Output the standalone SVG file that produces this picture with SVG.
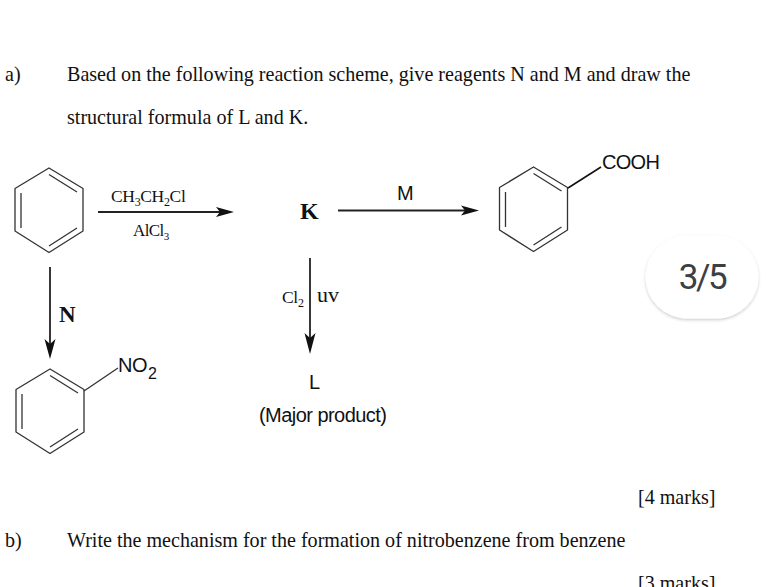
<svg xmlns="http://www.w3.org/2000/svg" width="769" height="587" viewBox="0 0 769 587">
<style>
.t{font-family:"Liberation Serif",serif;fill:#111}
.body{font-size:20.08px}
.s{font-family:"Liberation Sans",Arial,sans-serif;fill:#111}
.b{fill:none;stroke:#333;stroke-width:1.3;stroke-linejoin:round}
.c{fill:none;stroke:#222;stroke-width:1.8}
.h{fill:#111}
</style>
<defs>
<filter id="sh" x="-20%" y="-20%" width="140%" height="150%"><feDropShadow dx="0" dy="1.5" stdDeviation="1.5" flood-color="#000" flood-opacity="0.2"/></filter>
<g id="ring"><path class="b" d="M0 0L34 20.500V63L0 84.500L-34 63V20.500Z"/><path class="b" d="M0 6.500L28 24M-28 25V60M28 60L0 78"/></g>
</defs>
<rect width="769" height="587" fill="#fff"/>
<g id="question-text">
<text class="t body" x="5" y="81">a)</text>
<text class="t body" x="67" y="81">Based on the following reaction scheme, give reagents N and M and draw the</text>
<text class="t body" x="67" y="124">structural formula of L and K.</text>
<text class="t body" x="638" y="504">[4 marks]</text>
<text class="t body" x="5" y="547">b)</text>
<text class="t body" x="67" y="547">Write the mechanism for the formation of nitrobenzene from benzene</text>
<text class="t body" x="638" y="590">[3 marks]</text>
</g>
<g id="benzene"><use href="#ring" x="49" y="168"/></g>
<g id="nitrobenzene"><use href="#ring" x="50" y="369"/><path class="b" d="M84 391L118 368"/><text class="s" x="118" y="372" font-size="20" letter-spacing="-.5">NO<tspan font-size="16" dy="7" dx="1">2</tspan></text></g>
<g id="benzoic-acid"><use href="#ring" x="533.500" y="167"/><path class="b" style="stroke:#111;stroke-width:1.6" d="M568 188L601 167"/><text class="s" x="602" y="169" font-size="20" letter-spacing="-.7">COOH</text></g>
<g id="K"><text class="t" x="300" y="219" font-size="24" font-weight="bold">K</text></g>
<g id="L"><text class="s" x="309" y="389" font-size="20">L</text><text class="s" x="259" y="422" font-size="20" letter-spacing="-.55">(Major product)</text></g>
<g id="connectors">
<path class="c" d="M98 212H220"/><path class="h" d="M234 212L216 207L220 212L216 217Z"/>
<path class="c" d="M338 210.500H465"/><path class="h" d="M479 210.500L461 205.500L465 210.500L461 215.500Z"/>
<path class="c" d="M50 267V345"/><path class="h" d="M50 359L44.500 339L50 344L55.500 339Z"/>
<path class="c" d="M310 258V340"/><path class="h" d="M310 354L304.500 333L310 338L315.500 333Z"/>
</g>
<g id="labels">
<text class="t" x="111" y="202" font-size="17.500" letter-spacing="-.35">CH<tspan font-size="12" dy="4">3</tspan><tspan dy="-4">CH</tspan><tspan font-size="12" dy="4">2</tspan><tspan dy="-4">Cl</tspan></text>
<text class="t" x="133" y="236" font-size="17" letter-spacing="-.6">AlCl<tspan font-size="11" dy="4">3</tspan></text>
<text class="s" x="397" y="200" font-size="20">M</text>
<text class="t" x="59" y="322" font-size="23" font-weight="bold">N</text>
<text class="t" x="282" y="303" font-size="17.500" letter-spacing="-.3">Cl<tspan font-size="12" dy="4">2</tspan></text>
<text class="t" x="317" y="302" font-size="22">uv</text>
</g>
<g id="page-badge">
<rect x="645.500" y="235.500" width="113" height="83" rx="41.500" fill="#fff" filter="url(#sh)"/>
<text x="702" y="289" text-anchor="middle" font-family="Roboto,sans-serif" font-size="35" letter-spacing="-2.500" fill="#3c4043">3/5</text>
</g>
</svg>
